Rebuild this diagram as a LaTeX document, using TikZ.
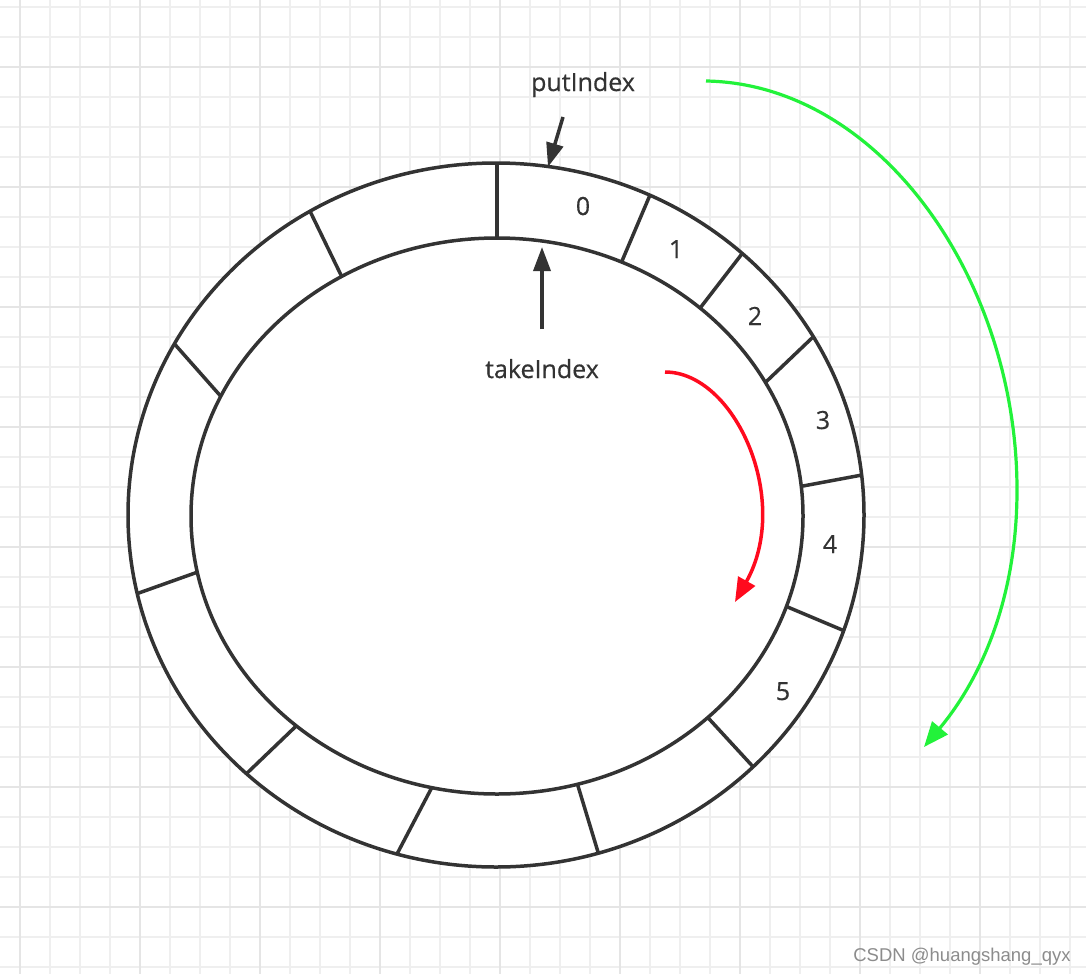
\documentclass[tikz,border=0pt]{standalone}
\usepackage{fontspec}
\setmainfont{Open Sans}
\newfontfamily\medfont{Open Sans}[FakeBold=0.5]
\newfontfamily\wmfont{Liberation Sans}
\usetikzlibrary{arrows.meta,calc}
\definecolor{ink}{HTML}{333333}
\definecolor{gridminor}{HTML}{EFEFEF}
\definecolor{gridmajor}{HTML}{E5E5E5}
\definecolor{grn}{HTML}{22F23A}
\definecolor{rd}{HTML}{FF0A1E}
\definecolor{wm}{HTML}{8C8C8C}
\tikzset{
  ringfill/.style={fill=white},
  ringline/.style={draw=ink, line width=3.5pt},
  divider/.style={draw=ink, line width=3.5pt},
  lbl/.style={text=ink, font=\medfont\fontsize{25}{30}\selectfont, anchor=base, inner sep=0pt},
  idx/.style={text=ink, font=\medfont\fontsize{25}{30}\selectfont, anchor=base, inner sep=0pt},
  blackarrow/.style={draw=ink, line width=3.5pt, -{Triangle[length=24pt,width=17pt]}},
  redarrow/.style={draw=rd, line width=3.5pt, -{Triangle[length=24pt,width=19pt]}},
  greenarrow/.style={draw=grn, line width=3.2pt, -{Triangle[length=25pt,width=20pt]}},
}
\begin{document}
\begin{tikzpicture}[x=1pt,y=-1pt]
\useasboundingbox (0,0) rectangle (1086,974);
\fill[white] (0,0) rectangle (1086,974);
% grid
\foreach \x in {20,50,...,1070} \draw[gridminor, line width=1.5pt] (\x,0) -- (\x,974);
\foreach \y in {7,37,...,967} \draw[gridminor, line width=1.5pt] (0,\y) -- (1086,\y);
\foreach \x in {20,140,...,980} \draw[gridmajor, line width=2pt] (\x,0) -- (\x,974);
\foreach \y in {67,187,...,907} \draw[gridmajor, line width=2pt] (0,\y) -- (1086,\y);
% outer ring
\coordinate (oc) at (496,515);
\coordinate (ic) at (497,516);
\fill[ringfill] (oc) ellipse [x radius=368pt, y radius=352pt];
\begin{scope}
\clip (oc) ellipse [x radius=368pt, y radius=352pt];
% dividers (outer end, inner end)
\foreach \ox/\oy/\ix/\iy [count=\n] in {
  497/162/497/239,
  650/195/622/261,
  748/246/704/303,
  812/338/769/379,
  862/475/803/486,
  847/632/790/608,
  757/771/711/721,
  598/852/578/786,
  397/854/430/791,
  243/777/292/730,
  136/594/195/573,
  171/340/217/392,
  307/205/340/273}{
  \coordinate (o\n) at (\ox,\oy);
  \coordinate (i\n) at (\ix,\iy);
  \draw[divider] ($(i\n)!1.15!(o\n)$) -- ($(o\n)!1.08!(i\n)$);
}
\end{scope}
\draw[ringline] (oc) ellipse [x radius=368pt, y radius=352pt];
\draw[ringline, ringfill] (ic) ellipse [x radius=306pt, y radius=278pt];
% index labels
\node[idx] (d0) at (583,215) {0};
\node[idx] (d1) at (676,258) {1};
\node[idx] (d2) at (755,325) {2};
\node[idx] (d3) at (823,429) {3};
\node[idx] (d4) at (830,553) {4};
\node[idx] (d5) at (783,700) {5};
% pointers
\node[lbl] (put) at (583,91) {putIndex};
\node[lbl] (take) at (542,378) {takeIndex};
\coordinate (putTail) at (563,117);
\coordinate (putTip) at (548,167);
\draw[blackarrow] (putTail) -- (putTip);
\coordinate (takeTail) at (542,329);
\coordinate (takeTip) at (542,247);
\draw[blackarrow] (takeTail) -- (takeTip);
% red arrow
\coordinate (rs) at (665,372);
\coordinate (re) at (735,602);
\draw[redarrow] (rs) .. controls (735,372) and (792,500) .. (re);
% green arrow
\coordinate (gs) at (706,81);
\coordinate (gm) at (1017,490);
\coordinate (ge) at (924,747);
\draw[greenarrow] (gs) .. controls (880,84) and (1017,280) .. (gm) .. controls (1017,600) and (980,680) .. (ge);
% watermark
\node[text=wm, font=\wmfont\fontsize{18.5}{22}\selectfont, anchor=base, inner sep=0pt] (wmk) at (962,961) {CSDN @huangshang\_qyx};
\end{tikzpicture}
\end{document}
